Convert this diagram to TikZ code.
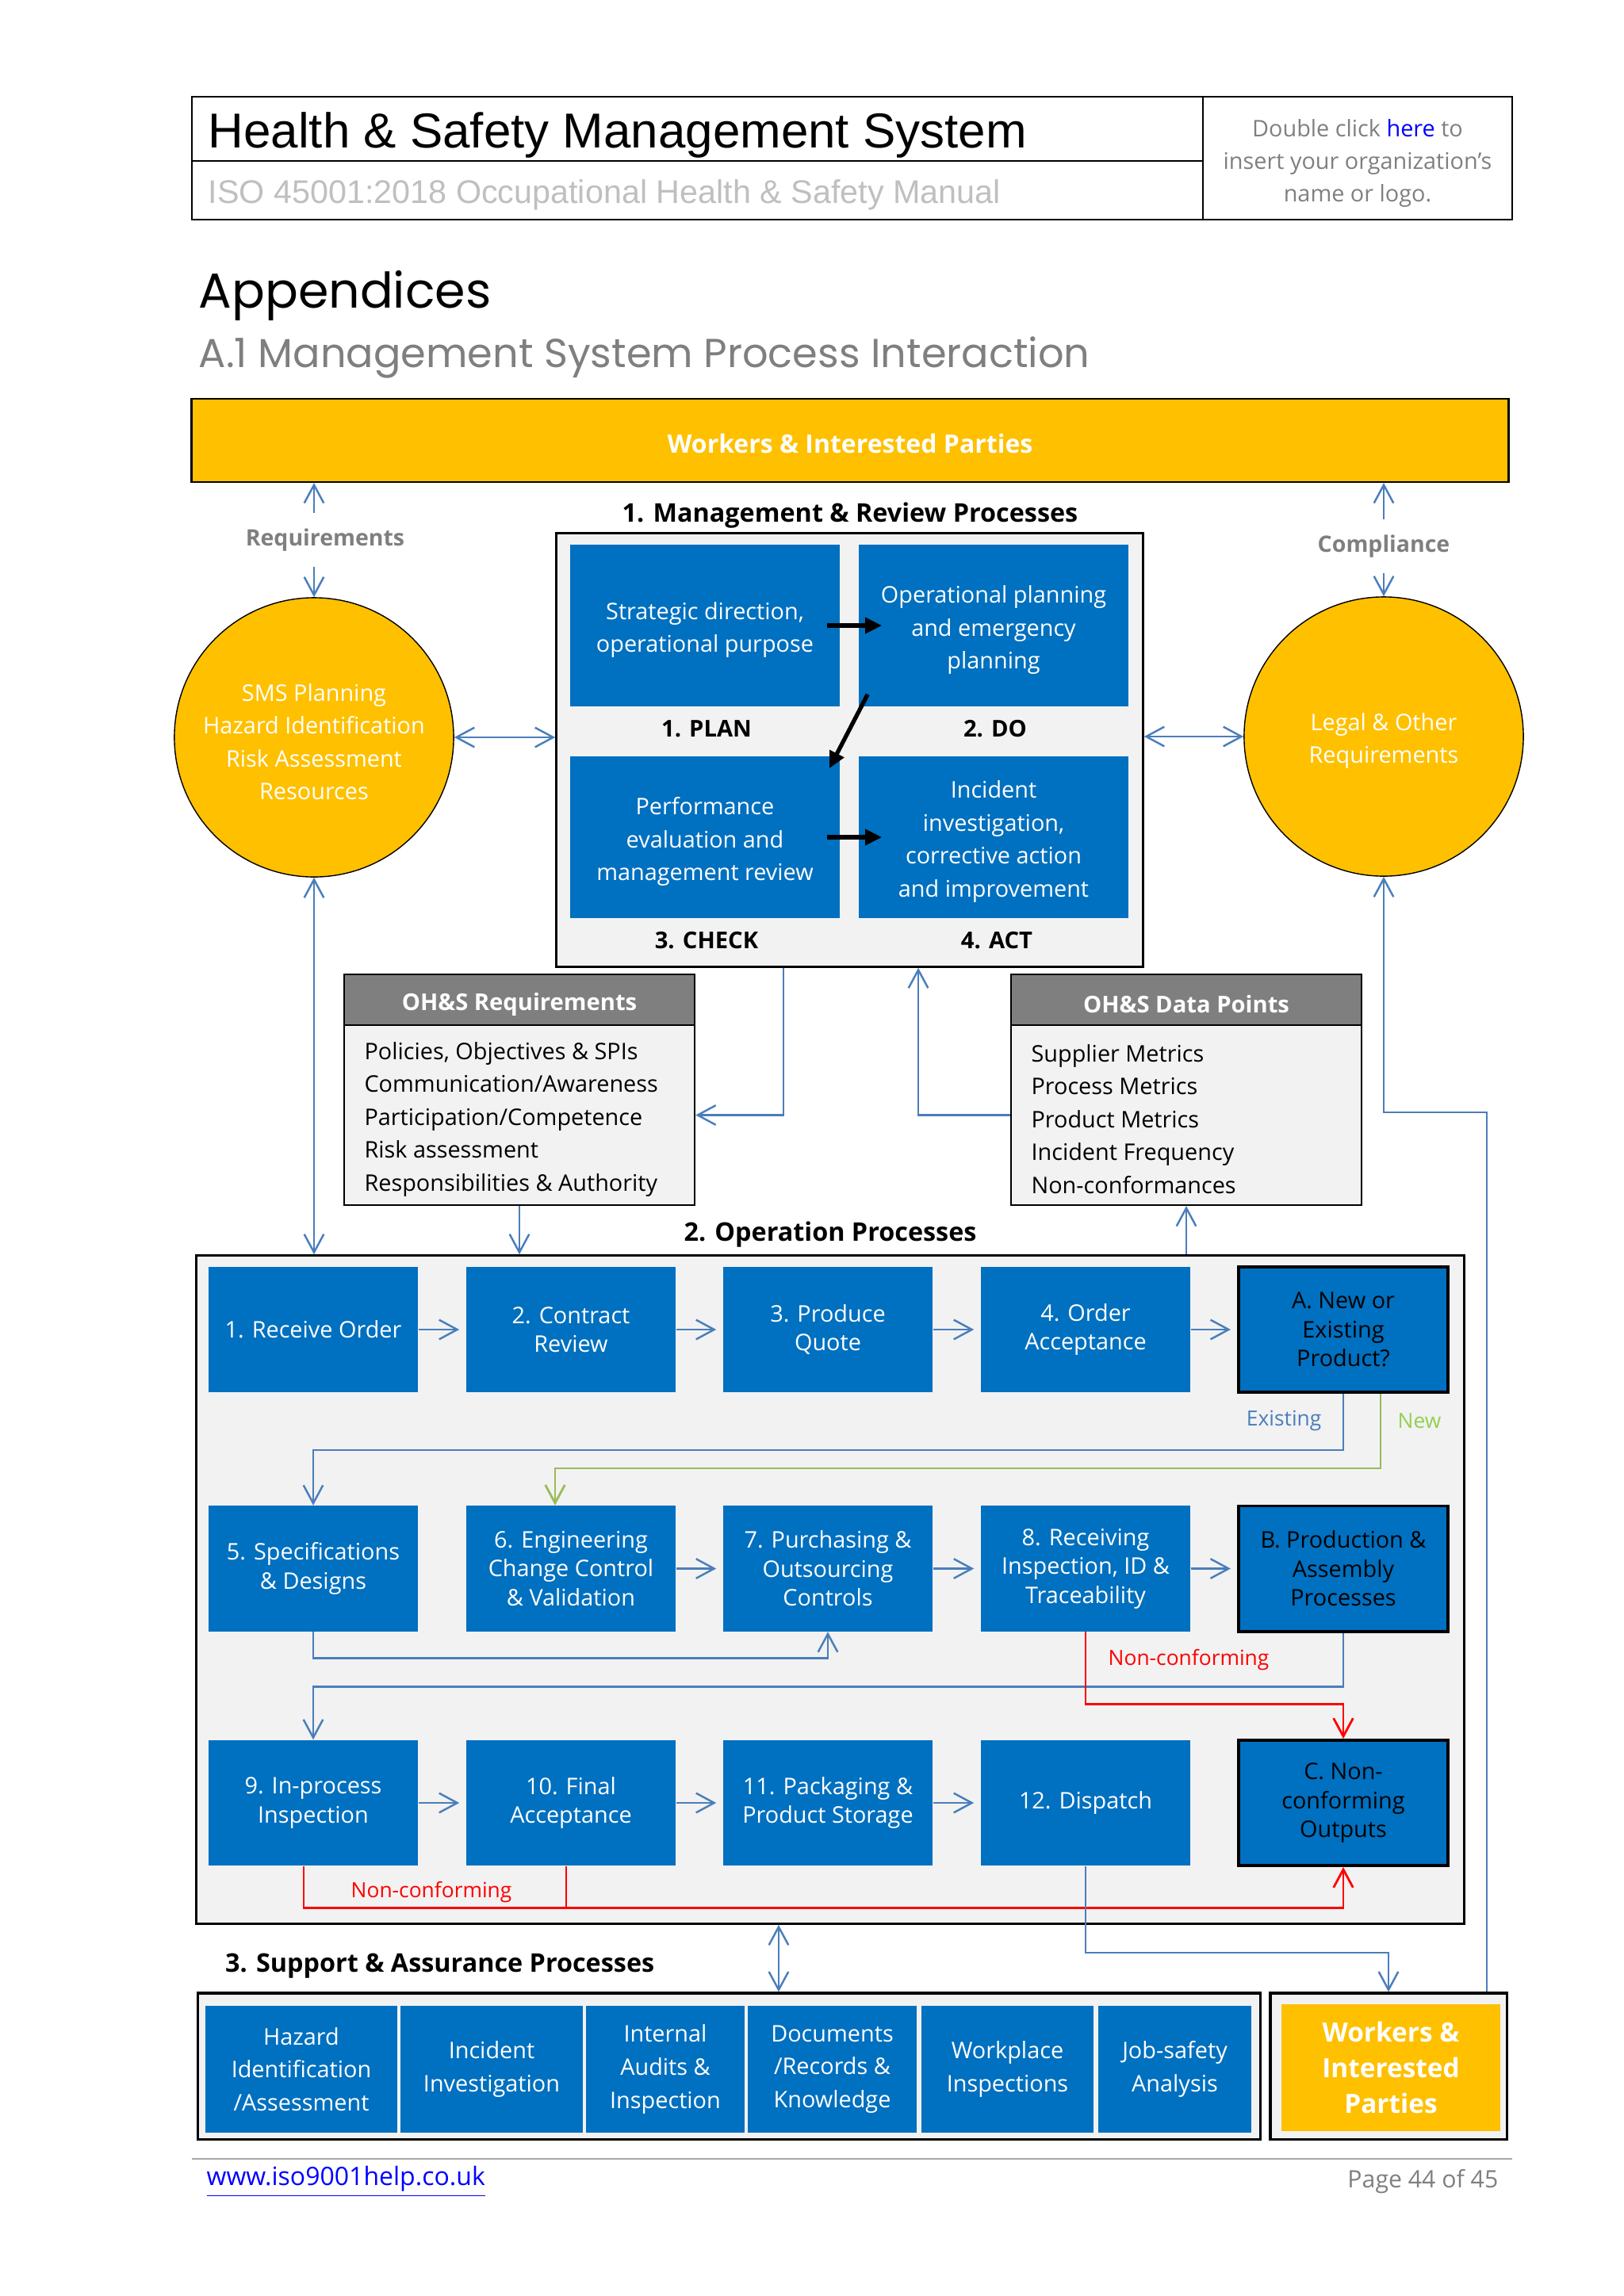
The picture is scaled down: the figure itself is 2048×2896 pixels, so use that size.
\documentclass[tikz,border=0pt]{standalone}
\usepackage{fontspec}
\setmainfont{Open Sans}
\newfontfamily\arialfont{Liberation Sans}
\newfontfamily\gothicfont{Poppins}
\usetikzlibrary{arrows.meta,calc}

\definecolor{boxblue}{HTML}{0070C0}
\definecolor{gold}{HTML}{FFC000}
\definecolor{paper}{HTML}{F2F2F2}
\definecolor{headgray}{HTML}{7F7F7F}
\definecolor{subgray}{HTML}{BFBFBF}
\definecolor{footgray}{HTML}{A6A6A6}
\definecolor{linkblue}{HTML}{4A7EBB}
\definecolor{newgreen}{HTML}{9BBB59}
\definecolor{labgreen}{HTML}{92D050}
\definecolor{ncred}{HTML}{FF0000}
\definecolor{hereblue}{HTML}{0000FF}

\newcommand\txtbody{\fontsize{8.2}{11.8}\selectfont}
\newcommand\txtops{\fontsize{8.2}{10.4}\selectfont}
\newcommand\txtbold{\fontsize{9.2}{11}\selectfont\bfseries}
\newcommand\tstrut{\rule{0pt}{9.4pt}}

\begin{document}
\begin{tikzpicture}[x=0.01cm, y=-0.01cm,
    lowtext/.style={execute at begin node={\rule{0pt}{9.4pt}}},
    blk/.style={fill=boxblue, text=white, align=center, inner sep=0pt, font=\txtbody},
    pdca/.style={blk, minimum width=3.40cm, minimum height=2.04cm},
    opstep/.style={blk, font=\txtops, minimum width=2.64cm, minimum height=1.58cm},
    opdec/.style={opstep, draw=black, line width=1.1pt, text=black},
    supcell/.style={blk, font=\fontsize{8.2}{11.9}\selectfont, minimum height=1.59cm},
    panel/.style={draw=black, fill=paper, line width=0.9pt, inner sep=0pt},
    headbox/.style={draw=black, line width=0.6pt, fill=headgray, text=white, inner sep=0pt, lowtext,
        font=\fontsize{8.3}{10}\selectfont\bfseries, minimum width=4.42cm, minimum height=0.64cm},
    listbox/.style={draw=black, line width=0.6pt, fill=paper, inner sep=0pt,
        minimum width=4.42cm, minimum height=2.27cm},
    listtext/.style={align=left, inner sep=0pt, font=\txtbody},
    disc/.style={circle, draw=black, line width=0.4pt, fill=gold, text=white, align=center,
        font=\txtbody, minimum size=3.52cm, inner sep=0pt},
    heading/.style={font=\txtbold, inner sep=1pt},
    steplbl/.style={font=\fontsize{8.3}{10}\selectfont\bfseries, inner sep=1pt},
    sidelabel/.style={font=\fontsize{8.1}{10}\selectfont\bfseries, text=headgray, inner xsep=1pt, inner ysep=5.5pt},
    flowlbl/.style={font=\fontsize{7.5}{9}\selectfont, inner sep=0pt},
    link/.style={draw=linkblue, line width=0.7pt, -{Straight Barb[length=6.5pt,width=7pt]}},
    linkboth/.style={link, {Straight Barb[length=6.5pt,width=7pt]}-{Straight Barb[length=6.5pt,width=7pt]}},
    nclink/.style={link, draw=ncred, line width=0.8pt},
    newlink/.style={link, draw=newgreen, line width=0.8pt},
    pdcaarrow/.style={line width=1.5pt, -{Triangle[length=6pt,width=5.5pt]}},
  ]
    \useasboundingbox (0,0) rectangle (2048,2896);

    % header
    \draw[line width=0.6pt] (242,122) rectangle (1907,277);
    \draw[line width=0.6pt] (1517,122) -- (1517,277);
    \draw[line width=0.6pt] (242,203) -- (1517,203);
    \node[anchor=base west, inner sep=0pt, font=\arialfont\fontsize{17.6}{21}\selectfont] (hstitle) at (262,186)
    {Health \& Safety Management System};
    \node[anchor=base west, inner sep=0pt, text=subgray, font=\arialfont\fontsize{11.75}{14}\selectfont] (hssub) at (262,256)
    {ISO 45001:2018 Occupational Health \& Safety Manual};
    \node[align=center, inner sep=0pt, text=headgray, font=\fontsize{8.2}{11.6}\selectfont] (logo) at (1712,206)
    {Double click \textcolor{hereblue}{here} to\\insert your organization’s\\name or logo.};

    % page titles
    \node[anchor=base west, inner sep=0pt, font=\gothicfont\fontsize{17.6}{22}\selectfont] (appx) at (250,388) {Appendices};
    \node[anchor=base west, inner sep=0pt, text=headgray, font=\gothicfont\fontsize{14.5}{18}\selectfont] (secttl) at (250,463)
    {A.1 Management System Process Interaction};

    % top banner
    \node[draw=black, line width=0.6pt, fill=gold, text=white, inner sep=0pt, lowtext,
        font=\fontsize{9.1}{11}\selectfont\bfseries, minimum width=16.6cm, minimum height=1.05cm]
    (wip) at (1072,555.5) {Workers \& Interested Parties};

    % side circles
    \node[disc] (sms) at (396,930) {\tstrut SMS Planning\\Hazard Identification\\Risk Assessment\\Resources};
    \node[disc] (legal) at (1745,929) {\tstrut Legal \& Other\\Requirements};
    \node[sidelabel] (reqlbl) at (410,681) {Requirements};
    \node[sidelabel] (complbl) at (1745,689) {Compliance};
    \draw[link] (reqlbl.north -| sms.north) -- (sms.north |- wip.south);
    \draw[link] (reqlbl.south -| sms.north) -- (sms.north);
    \draw[link] (complbl.north) -- (complbl.north |- wip.south);
    \draw[link] (complbl.south) -- (legal.north);

    % 1. management & review (PDCA)
    \node[panel, minimum width=7.39cm, minimum height=5.46cm] (mgmt) at (1071.5,946) {};
    \node[heading] (mgmtlbl) at (1072,650) {1. Management \& Review Processes};
    \node[pdca] (plan) at (889,789) {\tstrut Strategic direction,\\operational purpose};
    \node[pdca] (exec) at (1253,789) {\tstrut Operational planning\\and emergency\\planning};
    \node[pdca] (check) at (889,1056) {\tstrut Performance\\evaluation and\\management review};
    \node[pdca] (act) at (1253,1056) {\tstrut Incident\\investigation,\\corrective action\\and improvement};
    \node[steplbl] (planlbl) at (891,919) {1. PLAN};
    \node[steplbl] (execlbl) at (1255,919) {2. DO};
    \node[steplbl] (checklbl) at (891,1186) {3. CHECK};
    \node[steplbl] (actlbl) at (1257,1186) {4. ACT};
    \draw[pdcaarrow] ([xshift=-0.17cm]plan.east) -- ([xshift=0.30cm]exec.west);
    \draw[pdcaarrow] ([shift={(12,-16)}]exec.south west) -- ([shift={(-14,16)}]check.north east);
    \draw[pdcaarrow] ([xshift=-0.17cm]check.east) -- ([xshift=0.30cm]act.west);
    \draw[linkboth] (sms.east) -- (sms.east -| mgmt.west);
    \draw[linkboth] (mgmt.east |- legal.west) -- (legal.west);

    % OH&S lists
    \node[headbox] (reqhead) at (655,1261) {OH\&S Requirements};
    \node[listbox] (reqbody) at (655,1406.5) {};
    \node[listtext, anchor=west] (reqtext) at ([xshift=0.26cm, yshift=-0.05cm]reqbody.west)
    {Policies, Objectives \& SPIs\\Communication/Awareness\\Participation/Competence\\Risk assessment\\Responsibilities \& Authority};
    \node[headbox] (datahead) at (1496,1261) {OH\&S Data Points};
    \node[listbox] (databody) at (1496,1406.5) {};
    \node[listtext, anchor=west] (datatext) at ([xshift=0.26cm, yshift=-0.05cm]databody.west)
    {Supplier Metrics\\Process Metrics\\Product Metrics\\Incident Frequency\\Non-conformances};
    \draw[link] ([xshift=-0.835cm]mgmt.south) |- (reqbody.east);
    \draw[link] (databody.west) -| ([xshift=0.865cm]mgmt.south);

    % 2. operation processes
    \node[panel, minimum width=15.98cm, minimum height=8.42cm] (ops) at (1047,2005) {};
    \node[heading] (opslbl) at (1047,1557) {2. Operation Processes};
    \node[opstep] (o1) at (395,1677) {1. Receive Order};
    \node[opstep] (o2) at (720,1677) {2. Contract\\Review};
    \node[opstep] (o3) at (1044,1677) {3. Produce\\Quote};
    \node[opstep] (o4) at (1369,1677) {4. Order\\Acceptance};
    \node[opdec]  (oa) at (1694,1677) {A. New or\\Existing\\Product?};
    \node[opstep] (o5) at (395,1978.5) {5. Specifications\\\& Designs};
    \node[opstep] (o6) at (720,1978.5) {6. Engineering\\Change Control\\\& Validation};
    \node[opstep] (o7) at (1044,1978.5) {7. Purchasing \&\\Outsourcing\\Controls};
    \node[opstep] (o8) at (1369,1978.5) {8. Receiving\\Inspection, ID \&\\Traceability};
    \node[opdec]  (ob) at (1694,1978.5) {B. Production \&\\Assembly\\Processes};
    \node[opstep] (o9) at (395,2274) {9. In-process\\Inspection};
    \node[opstep] (o10) at (720,2274) {10. Final\\Acceptance};
    \node[opstep] (o11) at (1044,2274) {11. Packaging \&\\Product Storage};
    \node[opstep] (o12) at (1369,2274) {12. Dispatch};
    \node[opdec]  (oc) at (1694,2274) {C. Non-\\conforming\\Outputs};
    \foreach \a/\b in {o1/o2,o2/o3,o3/o4,o4/oa,o6/o7,o7/o8,o8/ob,o9/o10,o10/o11,o11/o12}
    \draw[link, shorten >=0.08cm] (\a) -- (\b);

    % branches
    \draw[link] (oa.south) -- ++(0,71) -| (o5.north);
    \draw[newlink] ([xshift=0.47cm]oa.south) -- ++(0,94) -| ([xshift=-0.2cm]o6.north);
    \node[flowlbl, anchor=east, text=linkblue] (extlbl) at (1667,1792) {Existing};
    \node[flowlbl, anchor=west, text=labgreen] (newlbl) at (1762,1792) {New};
    \draw[link] (o5.south) -- ++(0,33) -| (o7.south);
    \draw[link] (ob.south) -- ++(0,68) -| (o9.north);
    \draw[nclink] (o8.south) -- ++(0,91) -| (oc.north);
    \node[flowlbl, anchor=west, text=ncred] (nclbl) at (1397,2094) {Non-conforming};
    \draw[nclink] ([xshift=-0.12cm]o9.south) -- ++(0,53) -| (oc.south);
    \draw[draw=ncred, line width=0.8pt] ([xshift=-0.06cm]o10.south) -- ++(0,53);
    \node[flowlbl, anchor=west, text=ncred] (nclbl2) at (442,2387) {Non-conforming};

    % 3. support & assurance
    \node[heading, anchor=west] (supplbl) at (280,2480) {3. Support \& Assurance Processes};
    \node[panel, minimum width=13.39cm, minimum height=1.84cm] (supp) at (919.5,2606) {};
    \node[supcell, minimum width=2.42cm] (s1) at (380,2610) {Hazard\\Identification\\/Assessment};
    \node[supcell, minimum width=2.30cm] (s2) at (620,2610) {Incident\\Investigation};
    \node[supcell, minimum width=2.00cm] (s3) at (839,2610) {Internal\\Audits \&\\Inspection};
    \node[supcell, minimum width=2.13cm] (s4) at (1049.5,2610) {Documents\\/Records \&\\Knowledge};
    \node[supcell, minimum width=2.17cm] (s5) at (1270.5,2610) {Workplace\\Inspections};
    \node[supcell, minimum width=1.93cm] (s6) at (1481.5,2610) {Job-safety\\Analysis};
    \node[panel, minimum width=2.98cm, minimum height=1.84cm] (wpbox) at (1751,2606) {};
    \node[fill=gold, text=white, align=center, inner sep=0pt, font=\fontsize{9.5}{12.9}\selectfont\bfseries,
        minimum width=2.76cm, minimum height=1.59cm] (wpcell) at (1754,2608) {Workers \&\\Interested\\Parties};

    % links between the groups
    \draw[linkboth] (sms.south) -- (sms.south |- ops.north);
    \draw[link] (reqbody.south) -- (reqbody.south |- ops.north);
    \draw[link] (databody.south |- ops.north) -- (databody.south);
    \coordinate (lgturn) at (1875,1403);
    \draw[link] (lgturn |- wpbox.north) -- (lgturn) -| (legal.south);
    \draw[link] (o12.south) -- ++(0,109) -| (wpbox.north);
    \draw[linkboth] ([xshift=-0.65cm]ops.south) -- ([xshift=-0.65cm]ops.south |- supp.north);

    % footer
    \draw[draw=footgray, line width=0.8pt] (242,2723) -- (1907,2723);
    \node[anchor=west, inner sep=0pt, text=hereblue, font=\fontsize{9.1}{11}\selectfont] (weblink) at (260,2752)
    {\underline{www.iso9001help.co.uk}};
    \node[anchor=east, inner sep=0pt, text=headgray, font=\fontsize{8.6}{11}\selectfont] (pageno) at (1890,2752)
    {Page 44 of 45};
\end{tikzpicture}
\end{document}
